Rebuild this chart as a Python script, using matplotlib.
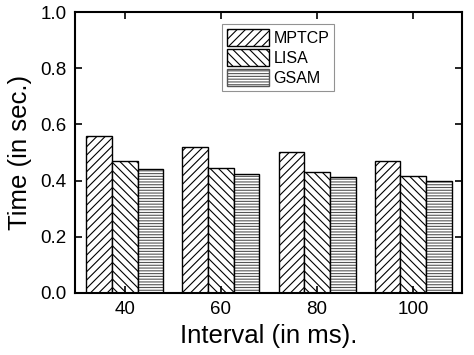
import matplotlib
matplotlib.use("Agg")
import matplotlib.pyplot as plt
import numpy as np
from matplotlib.patches import Patch

plt.rcParams['font.family'] = ['Liberation Sans', 'DejaVu Sans']
plt.rcParams['hatch.linewidth'] = 0.8

categories = ['40', '60', '80', '100']
mptcp = [0.56, 0.52, 0.50, 0.469]
lisa = [0.47, 0.444, 0.43, 0.415]
gsam = [0.442, 0.422, 0.413, 0.40]

fig = plt.figure(figsize=(4.74, 3.55), dpi=100)
ax = fig.add_axes([0.158, 0.175, 0.817, 0.791])

x = np.arange(len(categories))
w = 0.267

ax.bar(x - w, mptcp, w, facecolor='white', edgecolor='black', hatch='////', linewidth=1.0)
ax.bar(x, lisa, w, facecolor='white', edgecolor='black', hatch='\\\\\\\\', linewidth=1.0)
ax.bar(x + w, gsam, w, facecolor='white', edgecolor='#555555', hatch='------', linewidth=0)
ax.bar(x + w, gsam, w, facecolor='none', edgecolor='black', linewidth=1.0)

ax.set_xlim(-0.52, 3.51)
ax.set_ylim(0, 1.0)
ax.set_xticks(x)
ax.set_xticklabels(categories)
ax.set_yticks([0, 0.2, 0.4, 0.6, 0.8, 1.0])
ax.set_yticklabels(['0.0', '0.2', '0.4', '0.6', '0.8', '1.0'])
ax.tick_params(direction='in', top=True, right=True, labelsize=13.5, length=5, width=1.2, pad=6)
for s in ax.spines.values():
    s.set_linewidth(1.5)

ax.set_xlabel('Interval (in ms).', fontsize=18.5, labelpad=4)
ax.set_ylabel('Time (in sec.)', fontsize=18.5, labelpad=6)

handles = [
    Patch(facecolor='white', edgecolor='black', hatch='////', linewidth=1.0),
    Patch(facecolor='white', edgecolor='black', hatch='\\\\\\\\', linewidth=1.0),
    Patch(facecolor='white', edgecolor='#555555', hatch='------', linewidth=1.0),
]
leg = ax.legend(handles, ['MPTCP', 'LISA', 'GSAM'], loc='upper left',
                bbox_to_anchor=(0.381, 0.957), fontsize=11.5, frameon=True,
                fancybox=False, edgecolor='#777777', handlelength=2.6,
                handleheight=1.3, labelspacing=0.15, borderpad=0.3,
                handletextpad=0.3, borderaxespad=0)
leg.get_frame().set_linewidth(0.8)

fig.savefig('out.png', dpi=100)
